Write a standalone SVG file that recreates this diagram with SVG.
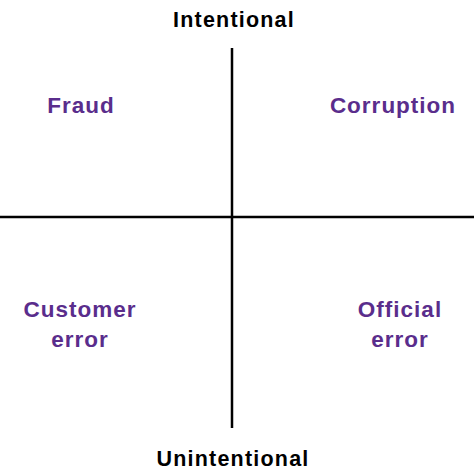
<svg xmlns="http://www.w3.org/2000/svg" width="474" height="474" viewBox="0 0 474 474">
<style>
.ax{stroke:#000;stroke-width:2.5;fill:none}
.t{font-family:"Liberation Sans",Arial,sans-serif;font-weight:bold;text-anchor:middle}
.axl{font-size:21.5px;fill:#000;letter-spacing:1.2px}
.q{font-size:22.5px;fill:#5a2d8c;letter-spacing:1px}
</style>
<rect width="474" height="474" fill="#fff"/>
<g id="connectors">
<line class="ax" x1="232" y1="48" x2="232" y2="428"/>
<line class="ax" x1="0" y1="217" x2="474" y2="217"/>
</g>
<g id="intentional"><text class="t axl" x="234" y="27">Intentional</text></g>
<g id="unintentional"><text class="t axl" x="233" y="466">Unintentional</text></g>
<g id="fraud"><text class="t q" x="81" y="113">Fraud</text></g>
<g id="corruption"><text class="t q" x="393" y="113">Corruption</text></g>
<g id="customer-error"><text class="t q" x="80" y="317">Customer</text><text class="t q" x="80" y="347">error</text></g>
<g id="official-error"><text class="t q" x="400" y="317">Official</text><text class="t q" x="400" y="347">error</text></g>
</svg>
